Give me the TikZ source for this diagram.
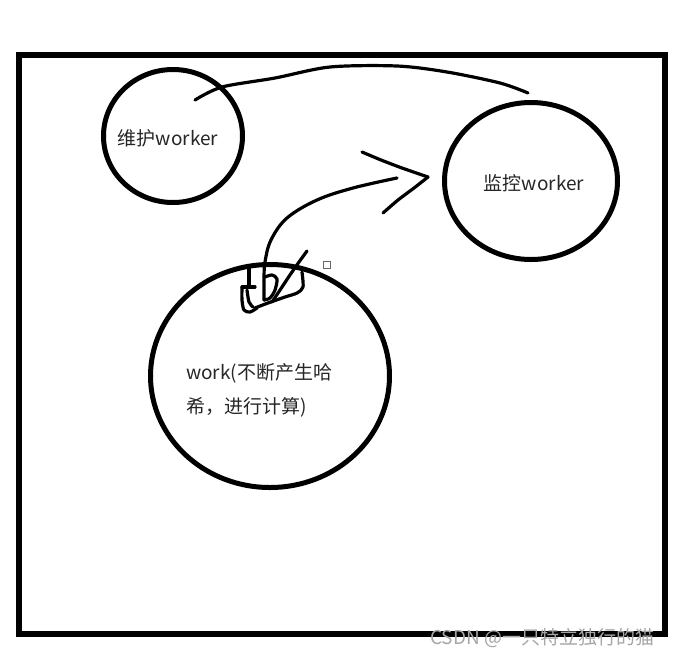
\documentclass[tikz,border=0pt]{standalone}
\usepackage{fontspec}
\setmainfont{Noto Sans CJK SC}
\usetikzlibrary{shapes.geometric}
\begin{document}
\begin{tikzpicture}[x=1pt,y=-1pt,
  bubble/.style={ellipse,draw=black,line width=5pt,inner sep=0pt,outer sep=0pt},
  lbl/.style={text=black!85,font=\fontsize{19}{23}\selectfont,inner sep=0pt},
  sk/.style={draw=black,line width=3.2pt,line cap=round,line join=round}]
\useasboundingbox (0,0) rectangle (678,657);
\fill[white] (0,0) rectangle (678,657);
\draw[line width=6pt] (19,55) rectangle (665,634);
% circles
\node[bubble,minimum width=139pt,minimum height=133pt] (m) at (173,136) {};
\node[bubble,minimum width=173pt,minimum height=157pt] (j) at (531,181) {};
\node[bubble,minimum width=239pt,minimum height=223pt] (w) at (270,376) {};
% labels
\node[lbl] (mt) at (168,138) {维护worker};
\node[lbl] (jt) at (534,183) {监控worker};
\node[lbl,anchor=west] (wt1) at (186,373) {work(不断产生哈};
\node[lbl,anchor=west] (wt2) at (186,407) {希，进行计算)};
% top curve from maintain worker to monitor worker
\coordinate (a1) at (195,100);
\coordinate (a2) at (528,93);
\draw[sk] plot[smooth,tension=0.5] coordinates {(a1) (222,87) (275,78) (330,67) (397,66) (447,72) (500,83) (a2)};
% arrow from work to monitor worker
\coordinate (b1) at (264,300);
\coordinate (b2) at (397,178);
\draw[sk] plot[smooth,tension=0.6] coordinates {(b1) (264,280) (265,262) (271,240) (287,218) (317,200) (353,188) (b2)};
\coordinate (h1) at (362,152);
\coordinate (h2) at (428,177);
\coordinate (h3) at (383,213);
\draw[sk] plot[smooth,tension=0.4] coordinates {(h1) (381,160) (402,168) (h2)};
\draw[sk] plot[smooth,tension=0.4] coordinates {(h2) (414,188) (398,200) (h3)};
% scribble at top of work
\draw[sk] (249,267) -- (249,287);
\draw[sk] plot[smooth,tension=0.5] coordinates {(242,287) (242,300) (244,310) (250,312) (257,308)};
\draw[sk] (242,287) -- (255,287);
\draw[sk] plot[smooth,tension=0.5] coordinates {(247,290) (249,302) (253,307)};
\draw[sk] plot[smooth,tension=0.5] coordinates {(265,277) (272,275) (277,279) (275,290) (270,298) (264,300)};
\draw[sk] plot[smooth,tension=0.5] coordinates {(307,251) (299,262) (292,272) (282,287) (272,302)};
\draw[sk] plot[smooth,tension=0.5] coordinates {(302,272) (303,287) (297,293) (285,297) (268,303) (255,308)};
% small square
\node[draw=black!60,line width=0.8pt,minimum size=7pt,inner sep=0pt] (sq) at (327,265) {};
% watermark
\node[text=black!35,font=\fontsize{19}{22}\selectfont,anchor=west,inner sep=0pt] (wm) at (430,638) {CSDN @一只特立独行的猫};
\end{tikzpicture}
\end{document}
